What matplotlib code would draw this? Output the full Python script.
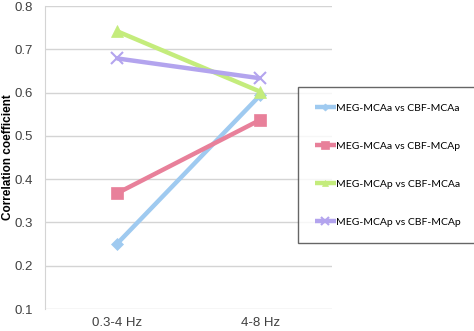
import numpy as np
from matplotlib import pyplot as plt

categories = ['0.3-4 Hz', '4-8 Hz']
series_names = ['MEG-MCAa vs CBF-MCAa', 'MEG-MCAa vs CBF-MCAp',
                'MEG-MCAp vs CBF-MCAa', 'MEG-MCAp vs CBF-MCAp']
aa_values = [0.250, 0.594]
ap_values = [0.367, 0.537]
pa_values = [0.742, 0.602]
pp_values = [0.679, 0.633]
y_ticks = [0.1, 0.2, 0.3, 0.4, 0.5, 0.6, 0.7, 0.8]

colors = ['#9fcaf0', '#e8809a', '#c4ec7c', '#b3a4ee']
markers = ['D', 's', '^', 'x']
marker_sizes = [6, 9, 8, 9]


def main() -> None:
    plt.rcParams['font.family'] = ['Liberation Sans', 'DejaVu Sans']
    fig = plt.figure(figsize=(4.74, 3.31), dpi=100)
    ax = fig.add_axes((45 / 474, 22 / 331, 287 / 474, 303 / 331))

    x = np.arange(len(categories))
    all_values = [aa_values, ap_values, pa_values, pp_values]
    for values, name, color, marker, size in zip(all_values, series_names, colors, markers, marker_sizes):
        ax.plot(x, values, color=color, linewidth=3.2, marker=marker, markersize=size,
                markeredgecolor=color, markeredgewidth=1.5 if marker == 'x' else 0.5,
                label=name, solid_capstyle='butt')

    ax.set_xlim(-0.5, 1.5)
    ax.set_ylim(0.1, 0.8)
    ax.set_xticks(x, categories)
    ax.set_yticks(y_ticks, [f'{t:.1f}' for t in y_ticks])
    ax.yaxis.grid(True, color='#d4d4d4', linewidth=1)
    ax.set_axisbelow(True)
    for side in ['top', 'right', 'bottom']:
        ax.spines[side].set_visible(False)
    ax.spines['left'].set_color('#d4d4d4')
    ax.tick_params(axis='both', length=0, labelsize=9.5, colors='#404040', pad=6)
    ax.tick_params(axis='y', pad=8.5)
    ax.set_ylabel('Correlation coefficient', fontsize=8.5, fontweight='bold')
    ax.yaxis.set_label_coords(-31 / 287, 0.5)

    legend = fig.legend(loc='upper left', bbox_to_anchor=(298 / 474, 1 - 87 / 331),
                        frameon=True, fancybox=False, edgecolor='#404040',
                        handlelength=2.0, handletextpad=0.05, labelspacing=2.75,
                        borderpad=1.6, borderaxespad=0, markerscale=0.6,
                        prop={'family': ['Lato', 'DejaVu Sans'], 'size': 7.5})
    legend.get_frame().set_linewidth(1.0)

    fig.savefig('out.png', dpi=100)


if __name__ == '__main__':
    main()
